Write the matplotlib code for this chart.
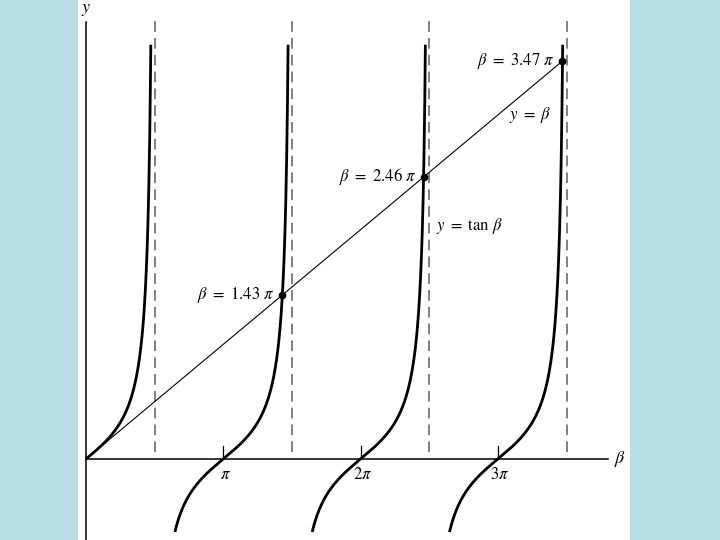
import numpy as np
import matplotlib
matplotlib.use('Agg')
import matplotlib.pyplot as plt

plt.rcParams['mathtext.fontset'] = 'stix'
plt.rcParams['font.family'] = ['Liberation Serif', 'DejaVu Serif']

# data
roots_pi = [1.43, 2.46, 3.47]              # intersections beta = tan(beta), in units of pi
root_labels = [r'$\beta\ =\ 1.43\ \pi$', r'$\beta\ =\ 2.46\ \pi$', r'$\beta\ =\ 3.47\ \pi$']
tick_mult = [1, 2, 3]
tick_labels = [r'$\pi$', r'$2\pi$', r'$3\pi$']
asym_pi = [0.5, 1.5, 2.5, 3.5]
y_top = 11.35
y_bottom = -2.0

PI = np.pi
SX = 43.7   # px per unit beta
SY = 36.5   # px per unit y
fig = plt.figure(figsize=(7.2, 5.4), dpi=100, facecolor='#b9dee6')
ax = fig.add_axes([78/720, 0, 552/720, 1])
ax.set_facecolor('white')
ax.set_xlim((78 - 86) / SX, (630 - 86) / SX)
ax.set_ylim((459 - 540) / SY, 459 / SY)
ax.set_xticks([]); ax.set_yticks([])
for s in ax.spines.values():
    s.set_visible(False)

def px(x):
    return (x - 86) / SX
def py(y):
    return (459 - y) / SY

# axes lines
ax.plot([0, 0], [py(540), py(22)], color='black', lw=1.1)
ax.plot([0, px(608)], [0, 0], color='black', lw=1.1)
ax.text(0, py(9), r'$y$', fontsize=13, ha='center', va='center')
ax.text(px(620), 0, r'$\beta$', fontsize=13, ha='center', va='center')

# asymptotes
for a in asym_pi:
    ax.plot([a*PI, a*PI], [py(452), py(20)], color='#5e5e5e', lw=1.1, dashes=(7, 4))

# ticks
for m, lab in zip(tick_mult, tick_labels):
    ax.plot([m*PI, m*PI], [0, py(446)], color='black', lw=0.9)
    ax.text(m*PI + 0.05, py(475), lab, fontsize=12, ha='center', va='center')

# tan branches
for k in range(4):
    lo = 0.0 if k == 0 else k*PI - np.arctan(-y_bottom)
    hi = k*PI + np.arctan(y_top)
    b = np.linspace(lo, hi, 400)
    ax.plot(b, np.tan(b), color='black', lw=2.0, solid_capstyle='butt')

# y = beta line
b_end = roots_pi[-1]*PI
ax.plot([0, b_end], [0, b_end], color='black', lw=0.8)

# intersection points and labels
for r, lab in zip(roots_pi, root_labels):
    ax.plot([r*PI], [r*PI], 'o', color='black', ms=4.5)
    ax.text(r*PI - 0.18, r*PI, lab, fontsize=12, ha='right', va='center')

ax.text(px(509), py(115), r'$y\ =\ \beta$', fontsize=12, ha='left', va='center')
ax.text(px(436), py(226), r'$y\ =\ \tan\,\beta$', fontsize=12, ha='left', va='center')

fig.savefig('out.png', dpi=100, facecolor=fig.get_facecolor())
